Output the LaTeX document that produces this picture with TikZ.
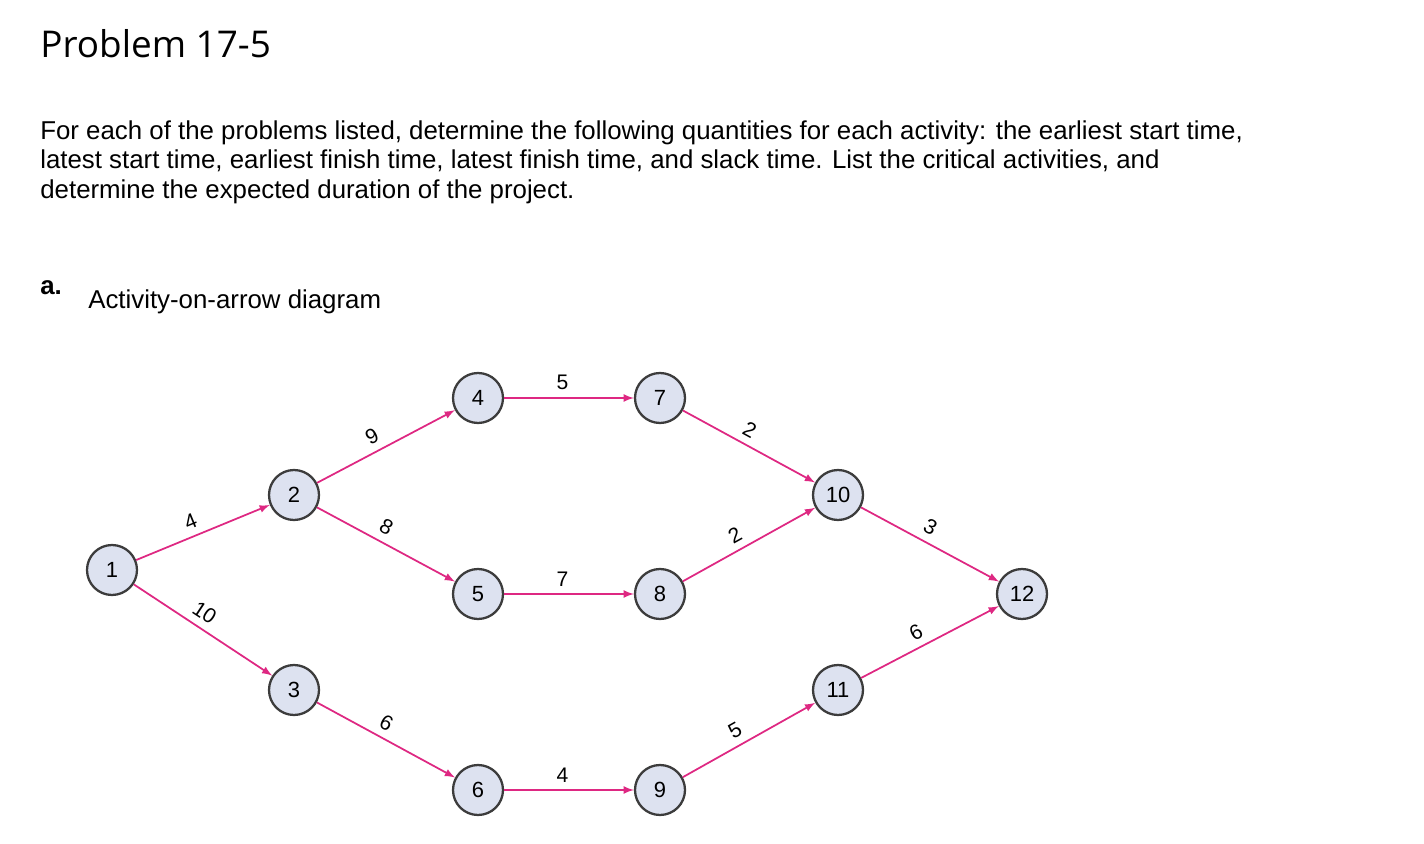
\documentclass[tikz,border=0pt]{standalone}
\usepackage{fontspec}
\setmainfont{Liberation Sans}
\newfontfamily\titlefont{Open Sans}
\usetikzlibrary{positioning}
\definecolor{actpink}{RGB}{222,40,130}
\definecolor{evfill}{RGB}{221,226,240}
\definecolor{evline}{RGB}{60,60,60}
\newlength{\unitpx}
\setlength{\unitpx}{0.02cm}
\tikzset{
  event/.style={circle, draw=evline, line width=1.3pt, fill=evfill, minimum size=50\unitpx, inner sep=0pt, font=\fontsize{12.5}{13}\selectfont},
  act/.style={draw=actpink, line width=1pt, -latex},
  dur/.style={pos=0.45, sloped, above, inner sep=4pt, font=\fontsize{12}{13}\selectfont}
}
\begin{document}
\begin{tikzpicture}[x=0.02cm, y=-0.02cm]
\useasboundingbox (0,0) rectangle (1424,844);
\node[anchor=base west, inner sep=0pt, font=\titlefont\fontsize{21}{22}\selectfont] (title) at (40,58) {Problem 17-5};
\node[anchor=north west, inner sep=0pt, align=left, font=\fontsize{14.7}{17}\selectfont] (intro) at (40,120)
  {For each of the problems listed, determine the following quantities for each activity: the earliest start time,\\
   latest start time, earliest finish time, latest finish time, and slack time. List the critical activities, and\\
   determine the expected duration of the project.};
\node[anchor=base west, inner sep=0pt, font=\bfseries\fontsize{14.7}{16}\selectfont] (parta) at (40,295) {a.};
\node[anchor=base west, inner sep=0pt, font=\fontsize{14.7}{16}\selectfont] (partcap) at (88,309) {Activity-on-arrow diagram};

% events
\node[event] (e1) at (112,570) {1};
\node[event] (e2) at (294,495) {2};
\node[event] (e3) at (294,690) {3};
\node[event] (e4) at (478,398) {4};
\node[event] (e5) at (478,594) {5};
\node[event] (e6) at (478,790) {6};
\node[event] (e7) at (660,398) {7};
\node[event] (e8) at (660,594) {8};
\node[event] (e9) at (660,790) {9};
\node[event] (e10) at (838,495) {10};
\node[event] (e11) at (838,690) {11};
\node[event] (e12) at (1022,594) {12};

% activities
\foreach \a/\b/\d in {e1/e2/4, e1/e3/10, e2/e4/9, e2/e5/8, e3/e6/6,
                      e4/e7/5, e5/e8/7, e6/e9/4, e7/e10/2, e8/e10/2,
                      e9/e11/5, e10/e12/3, e11/e12/6}
  \draw[act] (\a) -- (\b) node[dur] {\d};
\end{tikzpicture}
\end{document}
